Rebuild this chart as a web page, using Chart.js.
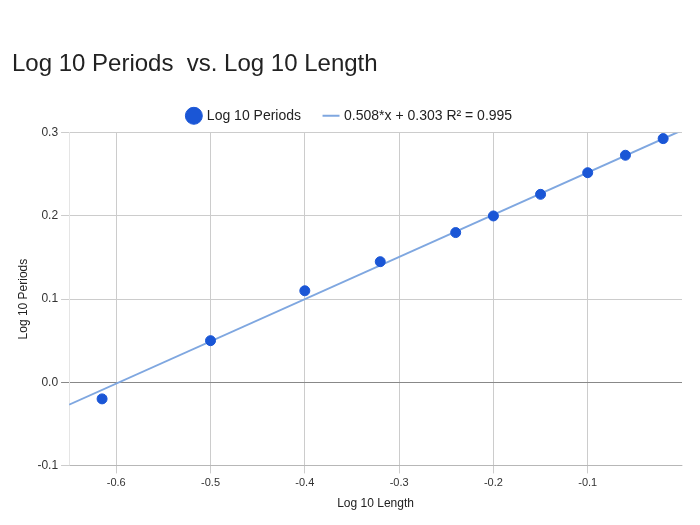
<!DOCTYPE html>
<html lang="en">
<head>
    <meta charset="UTF-8">
    <title>Log 10 Periods vs. Log 10 Length</title>
    <script src="https://cdn.jsdelivr.net/npm/chart.js"></script>
    <style>
        body { margin: 0; background: #fff; font-family: "Liberation Sans", Arial, sans-serif; }
        #wrap { width: 700px; height: 525px; padding: 10px 12px; box-sizing: border-box; }
    </style>
</head>
<body>
    <div id="wrap"><canvas id="chart"></canvas></div>
    <script>
        // measured points
        const logLength = [-0.615, -0.5, -0.4, -0.32, -0.24, -0.2, -0.15, -0.1, -0.06, -0.02];
        const logPeriod = [-0.02, 0.05, 0.11, 0.145, 0.18, 0.2, 0.226, 0.252, 0.273, 0.293];
        // trendline end points
        const trendX = [-0.65, 0.0];
        const trendY = [-0.027, 0.303];
        const xTicks = [-0.6, -0.5, -0.4, -0.3, -0.2, -0.1];

        new Chart(document.getElementById('chart'), {
            type: 'scatter',
            data: {
                datasets: [{
                    label: 'Log 10 Periods',
                    data: logLength.map((x, i) => ({ x, y: logPeriod[i] })),
                    backgroundColor: '#1a56d6',
                    borderColor: '#1a56d6',
                    pointRadius: 5,
                    pointStyle: 'circle',
                    order: 1
                }, {
                    label: '0.508*x + 0.303 R² = 0.995',
                    type: 'line',
                    data: trendX.map((x, i) => ({ x, y: trendY[i] })),
                    borderColor: '#7fa7e0',
                    backgroundColor: '#7fa7e0',
                    borderWidth: 2,
                    pointRadius: 0,
                    pointStyle: 'line',
                    order: 2
                }]
            },
            options: {
                responsive: true,
                maintainAspectRatio: false,
                animation: false,
                plugins: {
                    title: {
                        display: true, text: 'Log 10 Periods  vs. Log 10 Length', align: 'start',
                        color: '#222', font: { size: 24, weight: 'normal', family: 'Liberation Sans' },
                        padding: { top: 40, bottom: 6 }
                    },
                    legend: {
                        align: 'center',
                        labels: { usePointStyle: true, color: '#222', font: { size: 14 }, boxWidth: 12, boxHeight: 12, padding: 24 }
                    }
                },
                scales: {
                    x: {
                        type: 'linear', min: -0.65, max: 0,
                        afterBuildTicks: axis => { axis.ticks = xTicks.map(v => ({ value: v })); },
                        ticks: { color: '#333', font: { size: 11 } },
                        grid: { color: '#ccc' },
                        title: { display: true, text: 'Log 10 Length', color: '#222', font: { size: 12 } }
                    },
                    y: {
                        min: -0.1, max: 0.3,
                        ticks: { stepSize: 0.1, color: '#333', font: { size: 12 }, callback: v => v.toFixed(1) },
                        grid: { color: v => v.tick.value === 0 ? '#888' : '#ccc' },
                        title: { display: true, text: 'Log 10 Periods', color: '#222', font: { size: 12 } }
                    }
                }
            }
        });
    </script>
</body>
</html>
